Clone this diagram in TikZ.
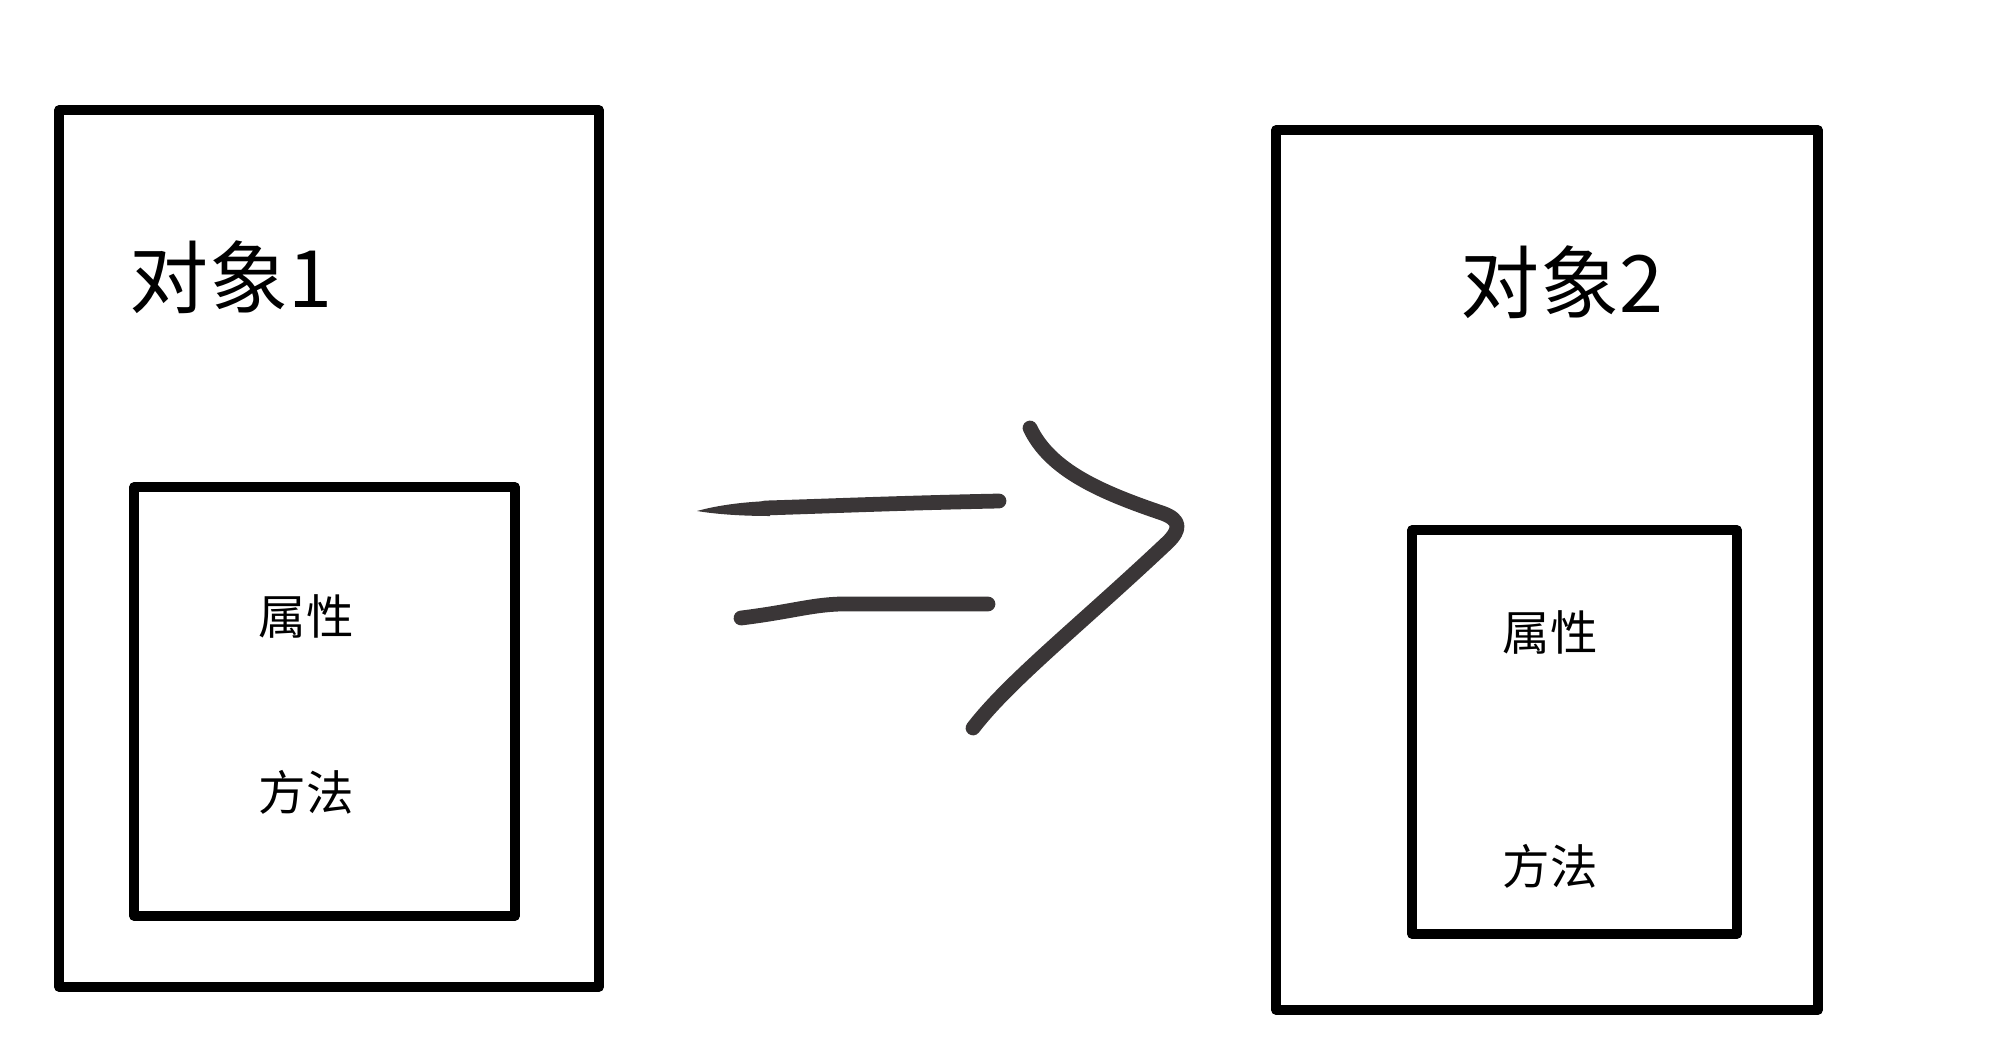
\documentclass[tikz,border=0pt]{standalone}
\usepackage{fontspec}
\setmainfont{Noto Sans CJK SC}
\usepackage{tikz}
\usetikzlibrary{calc}

\definecolor{marker}{HTML}{3A3637}

\begin{document}
\begin{tikzpicture}[x = 0.01cm, y = -0.01cm]
			\def\boxLW{2.6pt};
			\def\penLW{4.2pt};

			\useasboundingbox (0,0) rectangle (2003,1051);

			% object boxes
			\begin{scope}[line width = \boxLW, line join = round]
				\draw (59,110) rectangle (599,987);
				\draw (134,487) rectangle (515,916);
				\draw (1276,130) rectangle (1818,1010);
				\draw (1412,530) rectangle (1737,934);
			\end{scope}

			% labels
			\begin{scope}[font = \fontsize{22.5}{26}\selectfont]
				\node (objA) at (231,277) {对象1};
				\node (objB) at (1562,282) {对象2};
			\end{scope}

			\begin{scope}[font = \fontsize{13.5}{16}\selectfont]
				\node (attrA) at (306,616) {属性};
				\node (methA) at (306,792) {方法};
				\node (attrB) at (1550,632) {属性};
				\node (methB) at (1550,866) {方法};
			\end{scope}

			% hand drawn arrow
			\begin{scope}[marker, line width = \penLW, line cap = round, line join = round]
				\fill (697,511) .. controls (715,506) and (740,502) .. (770,501) -- (770,516)
					.. controls (740,516) and (715,514) .. cycle;
				\draw (765,508) .. controls (830,506) and (900,503) .. (999,501);
				\draw (741,618) .. controls (790,612) and (810,605) .. (840,604) -- (988,604);
				\draw (1030,428) .. controls (1050,470) and (1100,492) .. (1162,513)
					.. controls (1182,520) and (1180,530) .. (1168,542)
					.. controls (1080,625) and (1010,680) .. (973,728);
			\end{scope}
		\end{tikzpicture}
\end{document}
